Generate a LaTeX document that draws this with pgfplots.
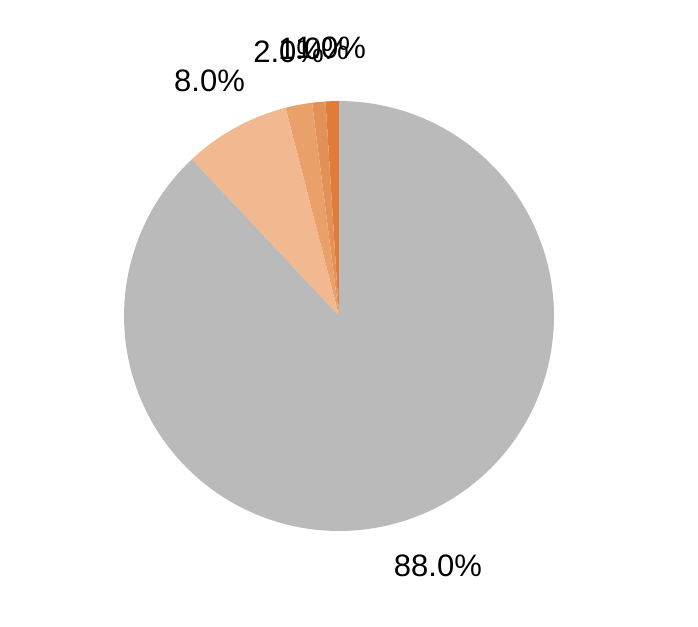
\documentclass[border=0pt]{standalone}
\usepackage{fontspec}
\setmainfont{Liberation Sans}
\usepackage{pgfplots}
\pgfplotsset{compat=1.18}

% slice shares in percent, counter-clockwise from 12 o'clock
\def\sA{1}\def\sB{1}\def\sC{2}\def\sD{8}\def\sE{88}

\definecolor{cA}{HTML}{E07B39}
\definecolor{cB}{HTML}{E29256}
\definecolor{cC}{HTML}{E9A069}
\definecolor{cD}{HTML}{F2B88F}
\definecolor{cE}{HTML}{BABABA}

\begin{document}
\begin{tikzpicture}[font=\fontsize{15.5}{18}\selectfont]
	\pgfmathsetmacro\aA{90}
	\pgfmathsetmacro\aB{\aA+3.6*\sA}
	\pgfmathsetmacro\aC{\aB+3.6*\sB}
	\pgfmathsetmacro\aD{\aC+3.6*\sC}
	\pgfmathsetmacro\aE{\aD+3.6*\sD}
	\pgfmathsetmacro\aF{\aE+3.6*\sE}
	\begin{axis}[
		scale only axis,
		width=349pt,
		height=313pt,
		xmin=-1.577, xmax=1.670,
		ymin=-1.442, ymax=1.470,
		hide axis,
		clip=false,
	]
		% keep the full frame in the bounding box
		\addplot[draw=none] coordinates {(-1.577,-1.442) (1.670,1.470)};

		\addplot[fill=cA, draw=none, domain=\aA:\aB, samples=10] ({cos(x)},{sin(x)}) -- (axis cs:0,0) -- cycle;
		\addplot[fill=cB, draw=none, domain=\aB:\aC, samples=10] ({cos(x)},{sin(x)}) -- (axis cs:0,0) -- cycle;
		\addplot[fill=cC, draw=none, domain=\aC:\aD, samples=10] ({cos(x)},{sin(x)}) -- (axis cs:0,0) -- cycle;
		\addplot[fill=cD, draw=none, domain=\aD:\aE, samples=30] ({cos(x)},{sin(x)}) -- (axis cs:0,0) -- cycle;
		\addplot[fill=cE, draw=none, domain=\aE:\aF, samples=200] ({cos(x)},{sin(x)}) -- (axis cs:0,0) -- cycle;

		\pgfmathsetmacro\mA{(\aA+\aB)/2}
		\pgfmathsetmacro\mB{(\aB+\aC)/2}
		\pgfmathsetmacro\mC{(\aC+\aD)/2}
		\pgfmathsetmacro\mD{(\aD+\aE)/2}
		\pgfmathsetmacro\mE{(\aE+\aF)/2}
		\node at (axis cs:{1.25*cos(\mE)},{1.25*sin(\mE)}) {88.0\%};
		\node at (axis cs:{1.25*cos(\mD)},{1.25*sin(\mD)}) {8.0\%};
		\node at (axis cs:{1.25*cos(\mC)},{1.25*sin(\mC)}) {2.0\%};
		\node at (axis cs:{1.25*cos(\mB)},{1.25*sin(\mB)}) {1.0\%};
		\node at (axis cs:{1.25*cos(\mA)},{1.25*sin(\mA)}) {1.0\%};
	\end{axis}
\end{tikzpicture}
\end{document}
